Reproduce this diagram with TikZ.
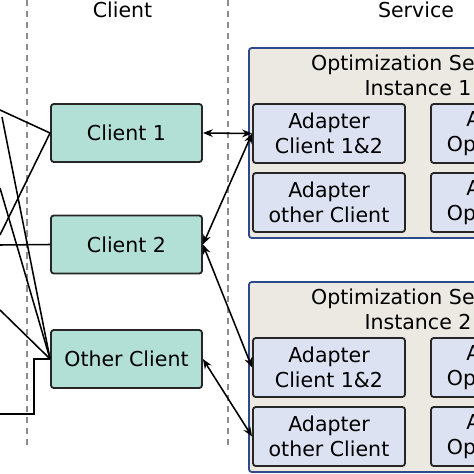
\documentclass[tikz,border=0pt]{standalone}
\usepackage{fontspec}
\setmainfont{DejaVu Sans}
\usetikzlibrary{arrows.meta}

\definecolor{clientfill}{HTML}{B3E0D6}
\definecolor{adapterfill}{HTML}{DDE2F3}
\definecolor{instancefill}{HTML}{ECE8E2}
\definecolor{instanceline}{HTML}{2E4A8C}

\begin{document}
\begin{tikzpicture}[x=0.025cm, y=-0.025cm,
        every node/.style={font=\fontsize{14.6pt}{17.8pt}\selectfont, inner sep=1pt},
        clientbox/.style={draw=black!85, line width=1.3pt, fill=clientfill, rounded corners=2pt,
                          minimum width=3.775cm, minimum height=1.45cm},
        adapterbox/.style={draw=black!85, line width=1.3pt, fill=adapterfill, rounded corners=2pt,
                           align=center, minimum width=3.8cm, minimum height=1.475cm},
        instancebox/.style={draw=instanceline, line width=1.3pt, fill=instancefill, rounded corners=2pt,
                            minimum width=8.45cm, minimum height=4.75cm},
        link/.style={line width=1.1pt, color=black},
        >={Stealth[length=7pt, width=5.5pt]}]
        \useasboundingbox (0, 0) rectangle (474, 474);
        \clip (0, 0) rectangle (474, 474);

        % Column separators:
        \foreach \x in {27, 228}
            \draw[line width=0.8, color=gray!90, dash pattern=on 4.5pt off 3.3pt] (\x, 0) -- (\x, 447);

        % Column titles:
        \node[anchor=base] (clienttitle) at (122.5, 17) {Client};
        \node[anchor=base] (servicetitle) at (416, 17) {Service};

        % Clients:
        \node[clientbox] (client1) at (126.5, 133) {Client 1};
        \node[clientbox] (client2) at (126.5, 244.5) {Client 2};
        \node[clientbox] (other) at (126.5, 359) {Other Client};

        % Service instances:
        \foreach \i/\y in {1/143, 2/377} {
            \node[instancebox] (inst\i) at (418, \y) {};
            \node[anchor=north, align=center, inner sep=0] (inst\i title) at (418, \y - 88) {Optimization Service\\Instance \i};
            \node[adapterbox] (ad\i1) at (329, \y - 9.5) {Adapter\\Client 1\&2};
            \node[adapterbox] (ad\i2) at (329, \y + 59.5) {Adapter\\other Client};
            \node[adapterbox] (op\i1) at (507, \y - 9.5) {Adapter\\Optimizer 1};
            \node[adapterbox] (op\i2) at (507, \y + 59.5) {Adapter\\Optimizer 2};
        }

        % Client to service links:
        \draw[link, <->] (client1.east) -- (ad11.west);
        \draw[link, <->] (client2.east) -- (ad11.west);
        \draw[link, <->] (client2.east) -- (ad21.west);
        \draw[link, <->] (other.east) -- (ad22.west);

        % Incoming lines from the left:
        \coordinate (in1) at (0, 110);
        \coordinate (in2) at (0, 235);
        \coordinate (in3) at (0, 245);
        \coordinate (in4) at (2, 117);
        \coordinate (in5) at (0, 188);
        \coordinate (in6) at (0, 310);
        \coordinate (in7) at (0, 414);
        \draw[link] (in1) -- (client1.west);
        \draw[link] (in2) -- (client1.west);
        \draw[link] (in3) -- (client2.west);
        \draw[link] (in4) -- (other.west);
        \draw[link] (in5) -- (other.west);
        \draw[link] (in6) -- (other.west);
        \draw[link] (other.west) -- ++(-16, 0) |- (in7);
\end{tikzpicture}
\end{document}
